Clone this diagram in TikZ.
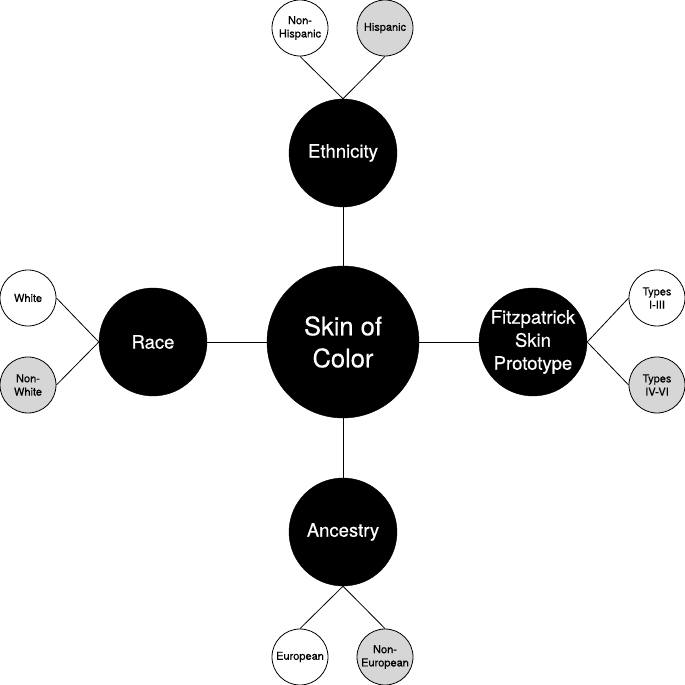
\documentclass[tikz,border=0pt]{standalone}
\usepackage{fontspec}
\setmainfont{TeX Gyre Heros}
\newfontfamily\medfont[FakeBold=0.35]{TeX Gyre Heros}
\definecolor{leafgray}{HTML}{D6D6D6}
\begin{document}
\begin{tikzpicture}[x=1pt,y=1pt,
  hub/.style={circle,fill=black,draw=black,minimum size=152pt,inner sep=0pt,text=white,align=center,font=\medfont\fontsize{25.5}{32}\selectfont},
  mid/.style={circle,fill=black,draw=black,minimum size=108pt,inner sep=0pt,text=white,align=center,font=\medfont\fontsize{18.5}{23}\selectfont},
  leaf/.style={circle,draw=black,line width=0.8pt,minimum size=56pt,inner sep=0pt,align=center,font=\medfont\fontsize{11}{13.3}\selectfont},
  leafw/.style={leaf,fill=white},
  leafg/.style={leaf,fill=leafgray},
  link/.style={draw=black,line width=0.8pt}]
\useasboundingbox (0,0) rectangle (685,685);
\node[hub] (c) at (343,343) {Skin of\\Color};
\node[mid] (eth) at (343,532) {Ethnicity};
\node[mid] (race) at (153,343) {Race};
\node[mid] (fitz) at (533,343) {Fitzpatrick\\Skin\\Prototype};
\node[mid] (anc) at (343,153) {Ancestry};
\node[leafw] (nh) at (300,657) {Non-\\Hispanic};
\node[leafg] (hi) at (385,657) {Hispanic};
\node[leafw] (wh) at (28,387) {White};
\node[leafg] (nw) at (28,300) {Non-\\White};
\node[leafw] (t1) at (657,387) {Types\\I-III};
\node[leafg] (t4) at (657,300) {Types\\IV-VI};
\node[leafw] (eu) at (300,28) {European};
\node[leafg] (ne) at (385,28) {Non-\\European};
\draw[link] (c) -- (eth);
\draw[link] (c) -- (race);
\draw[link] (c) -- (fitz);
\draw[link] (c) -- (anc);
\draw[link] (eth.north) -- (nh.south);
\draw[link] (eth.north) -- (hi.south);
\draw[link] (race.west) -- (wh.east);
\draw[link] (race.west) -- (nw.east);
\draw[link] (fitz.east) -- (t1.west);
\draw[link] (fitz.east) -- (t4.west);
\draw[link] (anc.south) -- (eu.north);
\draw[link] (anc.south) -- (ne.north);
\end{tikzpicture}
\end{document}
